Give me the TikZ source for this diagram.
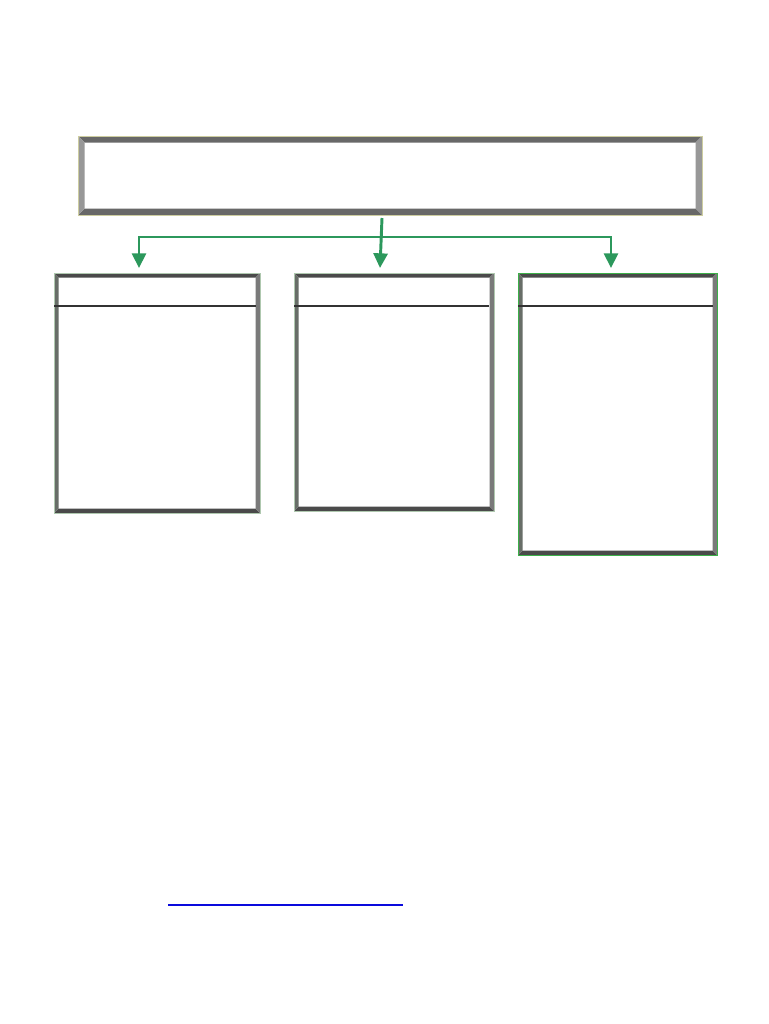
\documentclass[tikz,border=0pt]{standalone}
\usepackage{xcolor}
\usetikzlibrary{positioning,arrows.meta,calc,fit}

\definecolor{linkgreen}{RGB}{44,152,92}
\definecolor{titledark}{RGB}{104,104,104}
\definecolor{titleside}{RGB}{152,152,152}
\definecolor{titleedge}{RGB}{205,205,160}
\definecolor{boxdark}{RGB}{74,74,74}
\definecolor{boxleft}{RGB}{104,110,104}
\definecolor{boxright}{RGB}{122,122,122}
\definecolor{boxedge}{RGB}{175,200,175}
\definecolor{boxgreen}{RGB}{60,176,72}
\definecolor{footblue}{RGB}{10,10,220}

% bevelled frame round a node: name, depth, top/bottom, left, right, edge
\newcommand{\bevelframe}[6]{%
  \fill[#3] (#1.north west) -- (#1.north east) -- ($(#1.north east)+(-#2,#2)$) -- ($(#1.north west)+(#2,#2)$) -- cycle;
  \fill[#3] (#1.south west) -- (#1.south east) -- ($(#1.south east)+(-#2,-#2)$) -- ($(#1.south west)+(#2,-#2)$) -- cycle;
  \fill[#4] (#1.north west) -- ($(#1.north west)+(#2,#2)$) -- ($(#1.south west)+(#2,-#2)$) -- (#1.south west) -- cycle;
  \fill[#5] (#1.north east) -- ($(#1.north east)+(-#2,#2)$) -- ($(#1.south east)+(-#2,-#2)$) -- (#1.south east) -- cycle;
  \draw[#6, line width=0.6pt] (#1.north west) rectangle (#1.south east);}

\begin{document}
\begin{tikzpicture}[x=0.75pt, y=-0.75pt,
                panel/.style = {inner sep=0pt, outer sep=0pt, fill=white},
                headrule/.style = {draw=black!80, line width=0.9pt},
                link/.style = {draw=linkgreen, line width=2.2pt,
                               arrows={-Triangle[width=10.5pt,length=11pt]}}]
                \useasboundingbox (0,0) rectangle (768,1024);
                % boxes
                \node[panel, fit={(78,136) (702,215)}] (title) {};
                \node[panel, fit={(54,273) (260,513)}] (left) {};
                \node[panel, fit={(294,273) (494,511)}] (middle) {};
                \node[panel, fit={(518,273) (717,555)}] (right) {};
                \bevelframe{title}{6.5}{titledark}{titleside}{titleside}{titleedge}
                \bevelframe{left}{4.5}{boxdark}{boxleft}{boxright}{boxedge}
                \bevelframe{middle}{4.5}{boxdark}{boxleft}{boxright}{boxedge}
                \bevelframe{right}{4.5}{boxdark}{boxleft}{boxright}{boxgreen}
                \draw[headrule] ($(left.north west)+(0,33)$) -- ($(left.north east)+(-4,33)$);
                \draw[headrule] ($(middle.north west)+(0,33)$) -- ($(middle.north east)+(-5,33)$);
                \draw[headrule] ($(right.north west)+(0,33)$) -- ($(right.north east)+(-4,33)$);
                % connectors
                \coordinate (trunk) at (382,218);
                \coordinate (bus) at (382,237);
                \coordinate (tipL) at (139,268);
                \coordinate (tipM) at (380,268);
                \coordinate (tipR) at (611,268);
                \draw[link, arrows={Triangle[width=10.5pt,length=11pt]-Triangle[width=10.5pt,length=11pt]}]
                    (tipL) |- (tipR |- bus) -- (tipR);
                \draw[link] (trunk) -- (tipM);
                % footnote rule
                \coordinate (footA) at (168,905);
                \coordinate (footB) at (403,905);
                \draw[footblue, line width=1pt] (footA) -- (footB);
\end{tikzpicture}
\end{document}
